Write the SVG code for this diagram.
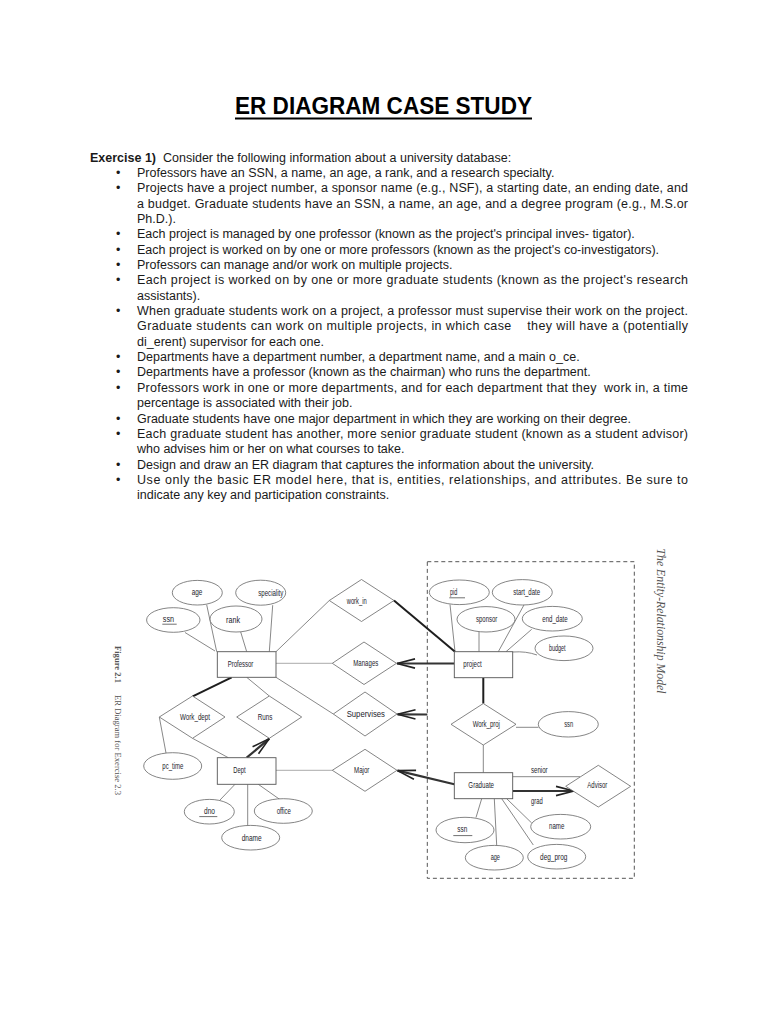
<svg xmlns="http://www.w3.org/2000/svg" width="768" height="1024" viewBox="0 0 768 1024">
<style>
.body{font-family:'Liberation Sans',Arial,sans-serif;font-size:12.5px;fill:#1a1a1a}
.b{font-weight:bold}
.title{font-family:'Liberation Sans',Arial,sans-serif;font-size:24px;font-weight:bold;fill:#000}
.ent{fill:#fff;stroke:#555;stroke-width:0.9}
.attr{fill:#fff;stroke:#666;stroke-width:0.8}
.rel{fill:#fff;stroke:#666;stroke-width:0.8}
.lbl{font-family:'Liberation Sans',Arial,sans-serif;font-size:9px;fill:#1c1c2c;text-anchor:middle}
.ul{stroke:#333;stroke-width:0.7}
.ln{stroke:#6a6a6a;stroke-width:0.8;fill:none}
.lg{stroke:#a0a0a0;stroke-width:0.9;fill:none}
.thk{stroke:#1e1e1e;stroke-width:2;fill:none}
.arr{stroke:#333;stroke-width:2.2;fill:none;marker-end:url(#stick)}
.box{fill:none;stroke:#555;stroke-width:1;stroke-dasharray:4 3}
.side{font-family:'Liberation Serif','Times New Roman',serif;fill:#555}
</style>
<defs>
<marker id="stick" viewBox="-20 -6 22 12" refX="0" refY="0" markerWidth="22" markerHeight="12" markerUnits="userSpaceOnUse" orient="auto">
<path d="M-18,-4.6 L0,0 L-18,4.6" fill="none" stroke="#222" stroke-width="1.6"/>
</marker>
</defs>
<rect width="768" height="1024" fill="#fff"/>

<g id="heading">
<text class="title" x="383.5" y="114.3" text-anchor="middle" textLength="297" lengthAdjust="spacingAndGlyphs">ER DIAGRAM CASE STUDY</text>
<line x1="235" y1="118.5" x2="532" y2="118.5" stroke="#000" stroke-width="2"/>
</g>

<g id="exercise-text" class="body">
<text x="90" y="161.5" class="b">Exercise 1)</text>
<text x="163" y="161.5">Consider the following information about a university database:</text>
<text x="116" y="176.9">•</text><text x="137" y="176.9">Professors have an SSN, a name, an age, a rank, and a research specialty.</text>
<text x="116" y="192.2">•</text><text x="137" y="192.2" textLength="551" lengthAdjust="spacing">Projects have a project number, a sponsor name (e.g., NSF), a starting date, an ending date, and</text>
<text x="137" y="207.6" textLength="551" lengthAdjust="spacing">a budget. Graduate students have an SSN, a name, an age, and a degree program (e.g., M.S.or</text>
<text x="137" y="222.9">Ph.D.).</text>
<text x="116" y="238.3">•</text><text x="137" y="238.3">Each project is managed by one professor (known as the project's principal inves- tigator).</text>
<text x="116" y="253.6">•</text><text x="137" y="253.6">Each project is worked on by one or more professors (known as the project's co-investigators).</text>
<text x="116" y="269">•</text><text x="137" y="269">Professors can manage and/or work on multiple projects.</text>
<text x="116" y="284.3">•</text><text x="137" y="284.3" textLength="551" lengthAdjust="spacing">Each project is worked on by one or more graduate students (known as the project's research</text>
<text x="137" y="299.7">assistants).</text>
<text x="116" y="315">•</text><text x="137" y="315" textLength="551" lengthAdjust="spacing">When graduate students work on a project, a professor must supervise their work on the project.</text>
<text x="137" y="330.4" textLength="551" lengthAdjust="spacing" xml:space="preserve">Graduate students can work on multiple projects, in which case    they will have a (potentially</text>
<text x="137" y="345.7">di_erent) supervisor for each one.</text>
<text x="116" y="361.1">•</text><text x="137" y="361.1">Departments have a department number, a department name, and a main o_ce.</text>
<text x="116" y="376.4">•</text><text x="137" y="376.4">Departments have a professor (known as the chairman) who runs the department.</text>
<text x="116" y="391.8">•</text><text x="137" y="391.8" textLength="551" lengthAdjust="spacing" xml:space="preserve">Professors work in one or more departments, and for each department that they  work in, a time</text>
<text x="137" y="407.1">percentage is associated with their job.</text>
<text x="116" y="422.5">•</text><text x="137" y="422.5">Graduate students have one major department in which they are working on their degree.</text>
<text x="116" y="437.8">•</text><text x="137" y="437.8" textLength="551" lengthAdjust="spacing">Each graduate student has another, more senior graduate student (known as a student advisor)</text>
<text x="137" y="453.2">who advises him or her on what courses to take.</text>
<text x="116" y="468.5">•</text><text x="137" y="468.5">Design and draw an ER diagram that captures the information about the university.</text>
<text x="116" y="483.9">•</text><text x="137" y="483.9" textLength="551" lengthAdjust="spacing">Use only the basic ER model here, that is, entities, relationships, and attributes. Be sure to</text>
<text x="137" y="499.2">indicate any key and participation constraints.</text>
</g>

<g id="captions" class="side">
<text transform="translate(115,646) rotate(90)" font-size="8.5" font-weight="bold" textLength="37" lengthAdjust="spacingAndGlyphs">Figure 2.1</text>
<text transform="translate(115,695) rotate(90)" font-size="8.5" textLength="100" lengthAdjust="spacingAndGlyphs">ER Diagram for Exercise 2.3</text>
<text transform="translate(657,548.5) rotate(90)" font-size="11.8" font-style="italic" textLength="145" lengthAdjust="spacingAndGlyphs">The Entity-Relationship Model</text>
</g>

<rect id="project-boundary" class="box" x="427.3" y="561.7" width="207" height="316.6"/>

<g id="connectors">
<line class="ln" x1="185" y1="632.5" x2="215" y2="651"/>
<line class="ln" x1="206.7" y1="604.8" x2="216.7" y2="651.7"/>
<line class="ln" x1="240.7" y1="632" x2="246.7" y2="651.7"/>
<line class="ln" x1="272.7" y1="605.2" x2="269.3" y2="651.7"/>
<line class="ln" x1="276" y1="651.7" x2="329.3" y2="600.5"/>
<line class="lg" x1="276" y1="663.3" x2="332.3" y2="663.3"/>
<line class="ln" x1="276" y1="677.3" x2="333.3" y2="714"/>
<line class="ln" x1="246.7" y1="677.3" x2="269.3" y2="696"/>
<line class="ln" x1="192.5" y1="738.3" x2="228.3" y2="757.7"/>
<line class="ln" x1="159.3" y1="717" x2="166" y2="753"/>
<line class="lg" x1="276" y1="770.3" x2="332.3" y2="770.3"/>
<line class="ln" x1="220" y1="800" x2="235" y2="784.3"/>
<line class="ln" x1="247.7" y1="784.3" x2="247.7" y2="825.4"/>
<line class="ln" x1="280" y1="799.6" x2="258.3" y2="784.3"/>
<line class="ln" x1="450" y1="604.5" x2="455" y2="651.7"/>
<line class="ln" x1="479" y1="632" x2="479" y2="651.7"/>
<line class="ln" x1="524" y1="604.9" x2="498.3" y2="651.7"/>
<line class="ln" x1="531.7" y1="629.3" x2="506" y2="651.7"/>
<path class="ln" d="M512.7,652 Q526,651 537,655"/>
<line class="ln" x1="516" y1="727.3" x2="538.5" y2="727.3"/>
<line class="ln" x1="483.3" y1="745" x2="483.3" y2="772.7"/>
<line class="ln" x1="512.7" y1="776.7" x2="580" y2="776.7"/>
<line class="ln" x1="481.7" y1="798.7" x2="476" y2="817.5"/>
<line class="ln" x1="494.3" y1="798.7" x2="496.7" y2="845.4"/>
<line class="ln" x1="501.7" y1="798.7" x2="533.3" y2="845"/>
<line class="ln" x1="506.7" y1="798.7" x2="531.7" y2="823"/>
<line class="thk" x1="394" y1="600.5" x2="455" y2="651.7"/>
<line class="thk" x1="231.7" y1="677.3" x2="192.7" y2="696.3"/>
<line class="thk" x1="483.3" y1="677.7" x2="483.3" y2="703.5"/>
<line class="arr" x1="454.3" y1="663.5" x2="397" y2="663.5"/>
<line class="arr" x1="427.3" y1="714.5" x2="397.5" y2="714.3"/>
<line class="arr" x1="454.3" y1="784.3" x2="397.5" y2="770.6"/>
<line class="arr" x1="246.7" y1="757.7" x2="269.3" y2="738.6"/>
<line class="arr" x1="512.7" y1="791" x2="574" y2="791"/>
<text class="lbl" x="539.3" y="773" textLength="16.7" lengthAdjust="spacingAndGlyphs">senior</text>
<text class="lbl" x="536.8" y="804" textLength="11.7" lengthAdjust="spacingAndGlyphs">grad</text>
</g>

<g id="professor"><rect class="ent" x="217.3" y="651.7" width="58.7" height="25.6"/><text class="lbl" x="240.5" y="667.2" textLength="25.7" lengthAdjust="spacingAndGlyphs">Professor</text></g>
<g id="dept"><rect class="ent" x="217.3" y="757.7" width="58.7" height="26.6"/><text class="lbl" x="239.5" y="773.2" textLength="12.3" lengthAdjust="spacingAndGlyphs">Dept</text></g>
<g id="project"><rect class="ent" x="454.3" y="651.7" width="58.4" height="26"/><text class="lbl" x="472.5" y="667.4" textLength="18.3" lengthAdjust="spacingAndGlyphs">project</text></g>
<g id="graduate"><rect class="ent" x="454.3" y="772.7" width="58.4" height="26"/><text class="lbl" x="481.2" y="788.2" textLength="25.7" lengthAdjust="spacingAndGlyphs">Graduate</text></g>

<g id="work_in"><polygon class="rel" points="329.3,600.5 361.5,579.5 394,600.5 361.5,621.5"/><text class="lbl" x="356.7" y="603.8" textLength="20" lengthAdjust="spacingAndGlyphs">work_in</text></g>
<g id="manages"><polygon class="rel" points="332.3,663.3 364,642 396.5,663.3 364,684.5"/><text class="lbl" x="365.8" y="666.4" textLength="25" lengthAdjust="spacingAndGlyphs">Manages</text></g>
<g id="supervises"><polygon class="rel" points="333.3,714 365,692 397,714 365,736"/><text class="lbl" x="365.8" y="716.8" font-size="10" textLength="38.3" lengthAdjust="spacingAndGlyphs">Supervises</text></g>
<g id="major"><polygon class="rel" points="332.3,770.3 365,749.3 397,770.3 365,791.3"/><text class="lbl" x="361.7" y="773.2" textLength="15.3" lengthAdjust="spacingAndGlyphs">Major</text></g>
<g id="work_dept"><polygon class="rel" points="159.3,717 192.5,696 225,717 192.5,738.3"/><text class="lbl" x="195" y="719.8" textLength="30" lengthAdjust="spacingAndGlyphs">Work_dept</text></g>
<g id="runs"><polygon class="rel" points="236.7,717 269.3,696 301.7,717 269.3,738.3"/><text class="lbl" x="265" y="719.8" textLength="14.7" lengthAdjust="spacingAndGlyphs">Runs</text></g>
<g id="work_proj"><polygon class="rel" points="451,724.3 483.3,703.5 516,724.3 483.3,745"/><text class="lbl" x="486.3" y="727.4" textLength="27.3" lengthAdjust="spacingAndGlyphs">Work_proj</text></g>
<g id="advisor"><polygon class="rel" points="565.7,786.3 598.3,765.3 630.7,786.3 598.3,807"/><text class="lbl" x="597.3" y="788.4" textLength="20" lengthAdjust="spacingAndGlyphs">Advisor</text></g>

<g id="prof-ssn"><ellipse class="attr" cx="173.3" cy="620" rx="26.7" ry="12.3"/><text class="lbl" x="168.5" y="621.8" textLength="11.3" lengthAdjust="spacingAndGlyphs">ssn</text><line class="ul" x1="162.3" y1="624.2" x2="176.7" y2="624.2"/></g>
<g id="prof-age"><ellipse class="attr" cx="197.3" cy="592.7" rx="25" ry="12.3"/><text class="lbl" x="197" y="595" textLength="10.7" lengthAdjust="spacingAndGlyphs">age</text></g>
<g id="prof-speciality"><ellipse class="attr" cx="260.7" cy="592.7" rx="25" ry="12.5"/><text class="lbl" x="270.8" y="595.7" textLength="25" lengthAdjust="spacingAndGlyphs">speciality</text></g>
<g id="prof-rank"><ellipse class="attr" cx="236" cy="619" rx="26" ry="13"/><text class="lbl" x="233" y="622.9" textLength="14" lengthAdjust="spacingAndGlyphs">rank</text></g>
<g id="dept-dno"><ellipse class="attr" cx="209.3" cy="811.7" rx="25" ry="12.3"/><text class="lbl" x="209.5" y="813.8" textLength="11" lengthAdjust="spacingAndGlyphs">dno</text><line class="ul" x1="199.3" y1="816.6" x2="217.3" y2="816.6"/></g>
<g id="dept-office"><ellipse class="attr" cx="283.3" cy="811" rx="29" ry="12.3"/><text class="lbl" x="283.8" y="814" textLength="14.3" lengthAdjust="spacingAndGlyphs">office</text></g>
<g id="dept-dname"><ellipse class="attr" cx="250.7" cy="837.7" rx="29" ry="12.3"/><text class="lbl" x="251.7" y="840.7" textLength="20" lengthAdjust="spacingAndGlyphs">dname</text></g>
<g id="pc_time"><ellipse class="attr" cx="172.7" cy="766" rx="29" ry="13.3"/><text class="lbl" x="172.8" y="769.3" textLength="21" lengthAdjust="spacingAndGlyphs">pc_time</text></g>
<g id="proj-pid"><ellipse class="attr" cx="459.3" cy="592.3" rx="30" ry="12.3"/><text class="lbl" x="453.7" y="595" textLength="7.3" lengthAdjust="spacingAndGlyphs">pid</text><line class="ul" x1="449.3" y1="597.8" x2="465" y2="597.8"/></g>
<g id="proj-start_date"><ellipse class="attr" cx="522.3" cy="592.3" rx="30" ry="12.7"/><text class="lbl" x="526.7" y="595.3" textLength="26.7" lengthAdjust="spacingAndGlyphs">start_date</text></g>
<g id="proj-sponsor"><ellipse class="attr" cx="486" cy="619.3" rx="29" ry="12.7"/><text class="lbl" x="486.7" y="622" textLength="21.3" lengthAdjust="spacingAndGlyphs">sponsor</text></g>
<g id="proj-end_date"><ellipse class="attr" cx="552.3" cy="618.7" rx="30" ry="12.3"/><text class="lbl" x="555" y="621.7" textLength="25.3" lengthAdjust="spacingAndGlyphs">end_date</text></g>
<g id="proj-budget"><ellipse class="attr" cx="564" cy="648.3" rx="29" ry="12.3"/><text class="lbl" x="557.3" y="651.3" textLength="16.7" lengthAdjust="spacingAndGlyphs">budget</text></g>
<g id="workproj-ssn"><ellipse class="attr" cx="568.3" cy="724.3" rx="30" ry="12.7"/><text class="lbl" x="568.7" y="726.8" textLength="9" lengthAdjust="spacingAndGlyphs">ssn</text></g>
<g id="grad-ssn"><ellipse class="attr" cx="465" cy="830" rx="29" ry="12.7"/><text class="lbl" x="462.3" y="832.4" textLength="10" lengthAdjust="spacingAndGlyphs">ssn</text><line class="ul" x1="453.3" y1="835.6" x2="472.3" y2="835.6"/></g>
<g id="grad-name"><ellipse class="attr" cx="560.7" cy="826.7" rx="30" ry="12.3"/><text class="lbl" x="556.7" y="829.3" textLength="15.3" lengthAdjust="spacingAndGlyphs">name</text></g>
<g id="grad-age"><ellipse class="attr" cx="494.3" cy="857.7" rx="29" ry="12.3"/><text class="lbl" x="495.3" y="860.3" textLength="9.3" lengthAdjust="spacingAndGlyphs">age</text></g>
<g id="grad-deg_prog"><ellipse class="attr" cx="556.7" cy="856.7" rx="29" ry="12.3"/><text class="lbl" x="553.7" y="859.6" textLength="27.3" lengthAdjust="spacingAndGlyphs">deg_prog</text></g>
</svg>
